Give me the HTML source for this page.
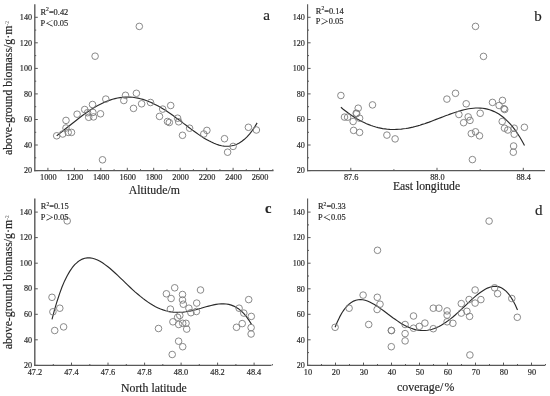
<!DOCTYPE html>
<html><head><meta charset="utf-8"><title>Figure</title>
<style>
html,body{margin:0;padding:0;background:#fff;}
svg{display:block;}
svg text{font-family:"Liberation Serif","Noto Serif CJK SC",serif;fill:#222222;stroke:#333;stroke-width:0.18px;}
</style></head><body>
<svg width="550" height="396" viewBox="0 0 550 396">
<rect width="550" height="396" fill="#ffffff"/>
<line x1="34.8" y1="4.3" x2="34.8" y2="171.2" stroke="#585858" stroke-width="1.35"/>
<line x1="34.2" y1="170.6" x2="273.5" y2="170.6" stroke="#585858" stroke-width="1.10"/>
<line x1="34.8" y1="170.6" x2="37.8" y2="170.6" stroke="#585858" stroke-width="1.00"/>
<text x="32.0" y="173.4" font-size="8.1" text-anchor="end" >20</text>
<line x1="34.8" y1="157.8" x2="36.2" y2="157.8" stroke="#585858" stroke-width="1.00"/>
<line x1="34.8" y1="145.0" x2="37.8" y2="145.0" stroke="#585858" stroke-width="1.00"/>
<text x="32.0" y="147.8" font-size="8.1" text-anchor="end" >40</text>
<line x1="34.8" y1="132.3" x2="36.2" y2="132.3" stroke="#585858" stroke-width="1.00"/>
<line x1="34.8" y1="119.5" x2="37.8" y2="119.5" stroke="#585858" stroke-width="1.00"/>
<text x="32.0" y="122.3" font-size="8.1" text-anchor="end" >60</text>
<line x1="34.8" y1="106.7" x2="36.2" y2="106.7" stroke="#585858" stroke-width="1.00"/>
<line x1="34.8" y1="93.9" x2="37.8" y2="93.9" stroke="#585858" stroke-width="1.00"/>
<text x="32.0" y="96.7" font-size="8.1" text-anchor="end" >80</text>
<line x1="34.8" y1="81.2" x2="36.2" y2="81.2" stroke="#585858" stroke-width="1.00"/>
<line x1="34.8" y1="68.4" x2="37.8" y2="68.4" stroke="#585858" stroke-width="1.00"/>
<text x="32.0" y="71.2" font-size="8.1" text-anchor="end" >100</text>
<line x1="34.8" y1="55.6" x2="36.2" y2="55.6" stroke="#585858" stroke-width="1.00"/>
<line x1="34.8" y1="42.8" x2="37.8" y2="42.8" stroke="#585858" stroke-width="1.00"/>
<text x="32.0" y="45.6" font-size="8.1" text-anchor="end" >120</text>
<line x1="34.8" y1="30.1" x2="36.2" y2="30.1" stroke="#585858" stroke-width="1.00"/>
<line x1="34.8" y1="17.3" x2="37.8" y2="17.3" stroke="#585858" stroke-width="1.00"/>
<text x="32.0" y="20.1" font-size="8.1" text-anchor="end" >140</text>
<line x1="47.9" y1="170.6" x2="47.9" y2="167.8" stroke="#585858" stroke-width="1.00"/>
<line x1="74.4" y1="170.6" x2="74.4" y2="167.8" stroke="#585858" stroke-width="1.00"/>
<line x1="100.8" y1="170.6" x2="100.8" y2="167.8" stroke="#585858" stroke-width="1.00"/>
<line x1="127.3" y1="170.6" x2="127.3" y2="167.8" stroke="#585858" stroke-width="1.00"/>
<line x1="153.7" y1="170.6" x2="153.7" y2="167.8" stroke="#585858" stroke-width="1.00"/>
<line x1="180.2" y1="170.6" x2="180.2" y2="167.8" stroke="#585858" stroke-width="1.00"/>
<line x1="206.7" y1="170.6" x2="206.7" y2="167.8" stroke="#585858" stroke-width="1.00"/>
<line x1="233.1" y1="170.6" x2="233.1" y2="167.8" stroke="#585858" stroke-width="1.00"/>
<line x1="259.6" y1="170.6" x2="259.6" y2="167.8" stroke="#585858" stroke-width="1.00"/>
<line x1="61.1" y1="170.6" x2="61.1" y2="169.2" stroke="#585858" stroke-width="1.00"/>
<line x1="87.6" y1="170.6" x2="87.6" y2="169.2" stroke="#585858" stroke-width="1.00"/>
<line x1="114.1" y1="170.6" x2="114.1" y2="169.2" stroke="#585858" stroke-width="1.00"/>
<line x1="140.5" y1="170.6" x2="140.5" y2="169.2" stroke="#585858" stroke-width="1.00"/>
<line x1="167.0" y1="170.6" x2="167.0" y2="169.2" stroke="#585858" stroke-width="1.00"/>
<line x1="193.4" y1="170.6" x2="193.4" y2="169.2" stroke="#585858" stroke-width="1.00"/>
<line x1="219.9" y1="170.6" x2="219.9" y2="169.2" stroke="#585858" stroke-width="1.00"/>
<line x1="246.3" y1="170.6" x2="246.3" y2="169.2" stroke="#585858" stroke-width="1.00"/>
<line x1="272.8" y1="170.6" x2="272.8" y2="169.2" stroke="#585858" stroke-width="1.00"/>
<text x="48.3" y="180.1" font-size="8.3" text-anchor="middle" >1000</text>
<text x="74.8" y="180.1" font-size="8.3" text-anchor="middle" >1200</text>
<text x="101.2" y="180.1" font-size="8.3" text-anchor="middle" >1400</text>
<text x="127.7" y="180.1" font-size="8.3" text-anchor="middle" >1600</text>
<text x="154.1" y="180.1" font-size="8.3" text-anchor="middle" >1800</text>
<text x="180.6" y="180.1" font-size="8.3" text-anchor="middle" >2000</text>
<text x="207.1" y="180.1" font-size="8.3" text-anchor="middle" >2200</text>
<text x="233.5" y="180.1" font-size="8.3" text-anchor="middle" >2400</text>
<text x="260.0" y="180.1" font-size="8.3" text-anchor="middle" >2600</text>
<text x="154.3" y="193.5" font-size="11.8" text-anchor="middle" >Altitude/m</text>
<text transform="translate(11.5,88.1) rotate(-90)" font-size="11.8" text-anchor="middle">above-ground biomass/g·m<tspan font-size="5.5" dy="-2.8" fill="#555" stroke="none">-2</tspan></text>
<line x1="307.6" y1="4.3" x2="307.6" y2="171.2" stroke="#585858" stroke-width="1.10"/>
<line x1="307.0" y1="170.6" x2="545.0" y2="170.6" stroke="#585858" stroke-width="1.10"/>
<line x1="307.6" y1="170.6" x2="310.6" y2="170.6" stroke="#585858" stroke-width="1.00"/>
<text x="304.8" y="173.4" font-size="8.1" text-anchor="end" >20</text>
<line x1="307.6" y1="157.8" x2="309.0" y2="157.8" stroke="#585858" stroke-width="1.00"/>
<line x1="307.6" y1="145.0" x2="310.6" y2="145.0" stroke="#585858" stroke-width="1.00"/>
<text x="304.8" y="147.8" font-size="8.1" text-anchor="end" >40</text>
<line x1="307.6" y1="132.3" x2="309.0" y2="132.3" stroke="#585858" stroke-width="1.00"/>
<line x1="307.6" y1="119.5" x2="310.6" y2="119.5" stroke="#585858" stroke-width="1.00"/>
<text x="304.8" y="122.3" font-size="8.1" text-anchor="end" >60</text>
<line x1="307.6" y1="106.7" x2="309.0" y2="106.7" stroke="#585858" stroke-width="1.00"/>
<line x1="307.6" y1="93.9" x2="310.6" y2="93.9" stroke="#585858" stroke-width="1.00"/>
<text x="304.8" y="96.7" font-size="8.1" text-anchor="end" >80</text>
<line x1="307.6" y1="81.2" x2="309.0" y2="81.2" stroke="#585858" stroke-width="1.00"/>
<line x1="307.6" y1="68.4" x2="310.6" y2="68.4" stroke="#585858" stroke-width="1.00"/>
<text x="304.8" y="71.2" font-size="8.1" text-anchor="end" >100</text>
<line x1="307.6" y1="55.6" x2="309.0" y2="55.6" stroke="#585858" stroke-width="1.00"/>
<line x1="307.6" y1="42.8" x2="310.6" y2="42.8" stroke="#585858" stroke-width="1.00"/>
<text x="304.8" y="45.6" font-size="8.1" text-anchor="end" >120</text>
<line x1="307.6" y1="30.1" x2="309.0" y2="30.1" stroke="#585858" stroke-width="1.00"/>
<line x1="307.6" y1="17.3" x2="310.6" y2="17.3" stroke="#585858" stroke-width="1.00"/>
<text x="304.8" y="20.1" font-size="8.1" text-anchor="end" >140</text>
<line x1="350.8" y1="170.6" x2="350.8" y2="167.8" stroke="#585858" stroke-width="1.00"/>
<line x1="437.0" y1="170.6" x2="437.0" y2="167.8" stroke="#585858" stroke-width="1.00"/>
<line x1="523.3" y1="170.6" x2="523.3" y2="167.8" stroke="#585858" stroke-width="1.00"/>
<line x1="393.9" y1="170.6" x2="393.9" y2="169.2" stroke="#585858" stroke-width="1.00"/>
<line x1="480.2" y1="170.6" x2="480.2" y2="169.2" stroke="#585858" stroke-width="1.00"/>
<text x="351.2" y="180.1" font-size="8.3" text-anchor="middle" >87.6</text>
<text x="437.4" y="180.1" font-size="8.3" text-anchor="middle" >88.0</text>
<text x="523.7" y="180.1" font-size="8.3" text-anchor="middle" >88.4</text>
<text x="426.5" y="190.4" font-size="11.7" text-anchor="middle" >East longitude</text>
<line x1="34.8" y1="198.6" x2="34.8" y2="366.0" stroke="#585858" stroke-width="1.40"/>
<line x1="34.2" y1="365.4" x2="271.5" y2="365.4" stroke="#585858" stroke-width="1.10"/>
<line x1="34.8" y1="365.4" x2="37.8" y2="365.4" stroke="#585858" stroke-width="1.00"/>
<text x="32.0" y="368.1" font-size="8.1" text-anchor="end" >20</text>
<line x1="34.8" y1="339.8" x2="37.8" y2="339.8" stroke="#585858" stroke-width="1.00"/>
<text x="32.0" y="342.5" font-size="8.1" text-anchor="end" >40</text>
<line x1="34.8" y1="314.3" x2="37.8" y2="314.3" stroke="#585858" stroke-width="1.00"/>
<text x="32.0" y="317.0" font-size="8.1" text-anchor="end" >60</text>
<line x1="34.8" y1="288.8" x2="37.8" y2="288.8" stroke="#585858" stroke-width="1.00"/>
<text x="32.0" y="291.4" font-size="8.1" text-anchor="end" >80</text>
<line x1="34.8" y1="263.2" x2="37.8" y2="263.2" stroke="#585858" stroke-width="1.00"/>
<text x="32.0" y="265.9" font-size="8.1" text-anchor="end" >100</text>
<line x1="34.8" y1="237.6" x2="37.8" y2="237.6" stroke="#585858" stroke-width="1.00"/>
<text x="32.0" y="240.3" font-size="8.1" text-anchor="end" >120</text>
<line x1="34.8" y1="212.1" x2="37.8" y2="212.1" stroke="#585858" stroke-width="1.00"/>
<text x="32.0" y="214.8" font-size="8.1" text-anchor="end" >140</text>
<line x1="71.5" y1="365.4" x2="71.5" y2="362.6" stroke="#585858" stroke-width="1.00"/>
<line x1="108.0" y1="365.4" x2="108.0" y2="362.6" stroke="#585858" stroke-width="1.00"/>
<line x1="144.6" y1="365.4" x2="144.6" y2="362.6" stroke="#585858" stroke-width="1.00"/>
<line x1="181.1" y1="365.4" x2="181.1" y2="362.6" stroke="#585858" stroke-width="1.00"/>
<line x1="217.6" y1="365.4" x2="217.6" y2="362.6" stroke="#585858" stroke-width="1.00"/>
<line x1="254.1" y1="365.4" x2="254.1" y2="362.6" stroke="#585858" stroke-width="1.00"/>
<line x1="53.3" y1="365.4" x2="53.3" y2="364.0" stroke="#585858" stroke-width="1.00"/>
<line x1="89.8" y1="365.4" x2="89.8" y2="364.0" stroke="#585858" stroke-width="1.00"/>
<line x1="126.3" y1="365.4" x2="126.3" y2="364.0" stroke="#585858" stroke-width="1.00"/>
<line x1="162.8" y1="365.4" x2="162.8" y2="364.0" stroke="#585858" stroke-width="1.00"/>
<line x1="199.3" y1="365.4" x2="199.3" y2="364.0" stroke="#585858" stroke-width="1.00"/>
<line x1="235.9" y1="365.4" x2="235.9" y2="364.0" stroke="#585858" stroke-width="1.00"/>
<line x1="272.4" y1="365.4" x2="272.4" y2="364.0" stroke="#585858" stroke-width="1.00"/>
<text x="34.9" y="374.9" font-size="8.3" text-anchor="middle" >47.2</text>
<text x="71.4" y="374.9" font-size="8.3" text-anchor="middle" >47.4</text>
<text x="107.9" y="374.9" font-size="8.3" text-anchor="middle" >47.6</text>
<text x="144.5" y="374.9" font-size="8.3" text-anchor="middle" >47.8</text>
<text x="181.0" y="374.9" font-size="8.3" text-anchor="middle" >48.0</text>
<text x="217.5" y="374.9" font-size="8.3" text-anchor="middle" >48.2</text>
<text x="254.0" y="374.9" font-size="8.3" text-anchor="middle" >48.4</text>
<text x="153.9" y="391.5" font-size="11.8" text-anchor="middle" >North latitude</text>
<text transform="translate(11.5,282.3) rotate(-90)" font-size="11.8" text-anchor="middle">above-ground biomass/g·m<tspan font-size="5.5" dy="-2.8" fill="#555" stroke="none">-2</tspan></text>
<line x1="307.6" y1="198.6" x2="307.6" y2="366.0" stroke="#585858" stroke-width="1.10"/>
<line x1="307.0" y1="365.4" x2="545.0" y2="365.4" stroke="#585858" stroke-width="1.10"/>
<line x1="307.6" y1="365.4" x2="310.6" y2="365.4" stroke="#585858" stroke-width="1.00"/>
<text x="304.8" y="368.2" font-size="8.1" text-anchor="end" >20</text>
<line x1="307.6" y1="352.6" x2="309.0" y2="352.6" stroke="#585858" stroke-width="1.00"/>
<line x1="307.6" y1="339.8" x2="310.6" y2="339.8" stroke="#585858" stroke-width="1.00"/>
<text x="304.8" y="342.6" font-size="8.1" text-anchor="end" >40</text>
<line x1="307.6" y1="327.1" x2="309.0" y2="327.1" stroke="#585858" stroke-width="1.00"/>
<line x1="307.6" y1="314.3" x2="310.6" y2="314.3" stroke="#585858" stroke-width="1.00"/>
<text x="304.8" y="317.1" font-size="8.1" text-anchor="end" >60</text>
<line x1="307.6" y1="301.5" x2="309.0" y2="301.5" stroke="#585858" stroke-width="1.00"/>
<line x1="307.6" y1="288.8" x2="310.6" y2="288.8" stroke="#585858" stroke-width="1.00"/>
<text x="304.8" y="291.6" font-size="8.1" text-anchor="end" >80</text>
<line x1="307.6" y1="276.0" x2="309.0" y2="276.0" stroke="#585858" stroke-width="1.00"/>
<line x1="307.6" y1="263.2" x2="310.6" y2="263.2" stroke="#585858" stroke-width="1.00"/>
<text x="304.8" y="266.0" font-size="8.1" text-anchor="end" >100</text>
<line x1="307.6" y1="250.4" x2="309.0" y2="250.4" stroke="#585858" stroke-width="1.00"/>
<line x1="307.6" y1="237.6" x2="310.6" y2="237.6" stroke="#585858" stroke-width="1.00"/>
<text x="304.8" y="240.4" font-size="8.1" text-anchor="end" >120</text>
<line x1="307.6" y1="224.9" x2="309.0" y2="224.9" stroke="#585858" stroke-width="1.00"/>
<line x1="307.6" y1="212.1" x2="310.6" y2="212.1" stroke="#585858" stroke-width="1.00"/>
<text x="304.8" y="214.9" font-size="8.1" text-anchor="end" >140</text>
<line x1="335.5" y1="365.4" x2="335.5" y2="362.6" stroke="#585858" stroke-width="1.00"/>
<line x1="363.5" y1="365.4" x2="363.5" y2="362.6" stroke="#585858" stroke-width="1.00"/>
<line x1="391.5" y1="365.4" x2="391.5" y2="362.6" stroke="#585858" stroke-width="1.00"/>
<line x1="419.5" y1="365.4" x2="419.5" y2="362.6" stroke="#585858" stroke-width="1.00"/>
<line x1="447.5" y1="365.4" x2="447.5" y2="362.6" stroke="#585858" stroke-width="1.00"/>
<line x1="475.5" y1="365.4" x2="475.5" y2="362.6" stroke="#585858" stroke-width="1.00"/>
<line x1="503.5" y1="365.4" x2="503.5" y2="362.6" stroke="#585858" stroke-width="1.00"/>
<line x1="531.5" y1="365.4" x2="531.5" y2="362.6" stroke="#585858" stroke-width="1.00"/>
<line x1="321.5" y1="365.4" x2="321.5" y2="364.0" stroke="#585858" stroke-width="1.00"/>
<line x1="349.5" y1="365.4" x2="349.5" y2="364.0" stroke="#585858" stroke-width="1.00"/>
<line x1="377.5" y1="365.4" x2="377.5" y2="364.0" stroke="#585858" stroke-width="1.00"/>
<line x1="405.5" y1="365.4" x2="405.5" y2="364.0" stroke="#585858" stroke-width="1.00"/>
<line x1="433.5" y1="365.4" x2="433.5" y2="364.0" stroke="#585858" stroke-width="1.00"/>
<line x1="461.5" y1="365.4" x2="461.5" y2="364.0" stroke="#585858" stroke-width="1.00"/>
<line x1="489.5" y1="365.4" x2="489.5" y2="364.0" stroke="#585858" stroke-width="1.00"/>
<line x1="517.5" y1="365.4" x2="517.5" y2="364.0" stroke="#585858" stroke-width="1.00"/>
<line x1="545.5" y1="365.4" x2="545.5" y2="364.0" stroke="#585858" stroke-width="1.00"/>
<text x="307.9" y="374.9" font-size="8.3" text-anchor="middle" >10</text>
<text x="335.9" y="374.9" font-size="8.3" text-anchor="middle" >20</text>
<text x="363.9" y="374.9" font-size="8.3" text-anchor="middle" >30</text>
<text x="391.9" y="374.9" font-size="8.3" text-anchor="middle" >40</text>
<text x="419.9" y="374.9" font-size="8.3" text-anchor="middle" >50</text>
<text x="447.9" y="374.9" font-size="8.3" text-anchor="middle" >60</text>
<text x="475.9" y="374.9" font-size="8.3" text-anchor="middle" >70</text>
<text x="503.9" y="374.9" font-size="8.3" text-anchor="middle" >80</text>
<text x="531.9" y="374.9" font-size="8.3" text-anchor="middle" >90</text>
<text x="425.7" y="391.1" font-size="11.9" text-anchor="middle" >coverage/<tspan dx="1.2">%</tspan></text>
<path d="M56.7,135.8 L59.2,133.9 L61.8,131.9 L64.3,129.8 L66.8,127.8 L69.4,125.7 L71.9,123.7 L74.5,121.7 L77.0,119.7 L79.5,117.7 L82.1,115.8 L84.6,114.0 L87.1,112.2 L89.7,110.5 L92.2,108.8 L94.8,107.3 L97.3,105.8 L99.8,104.5 L102.4,103.2 L104.9,102.0 L107.4,101.0 L110.0,100.1 L112.5,99.3 L115.0,98.6 L117.6,98.0 L120.1,97.6 L122.7,97.3 L125.2,97.1 L127.7,97.1 L130.3,97.1 L132.8,97.3 L135.3,97.7 L137.9,98.1 L140.4,98.7 L142.9,99.4 L145.5,100.3 L148.0,101.2 L150.6,102.3 L153.1,103.4 L155.6,104.7 L158.2,106.0 L160.7,107.5 L163.2,109.0 L165.8,110.6 L168.3,112.3 L170.9,114.0 L173.4,115.8 L175.9,117.7 L178.5,119.5 L181.0,121.4 L183.5,123.4 L186.1,125.3 L188.6,127.2 L191.1,129.1 L193.7,131.0 L196.2,132.8 L198.8,134.6 L201.3,136.3 L203.8,137.9 L206.4,139.4 L208.9,140.8 L211.4,142.1 L214.0,143.3 L216.5,144.3 L219.0,145.1 L221.6,145.7 L224.1,146.1 L226.7,146.2 L229.2,146.2 L231.7,145.8 L234.3,145.2 L236.8,144.2 L239.3,142.9 L241.9,141.3 L244.4,139.3 L247.0,136.9 L249.5,134.1 L252.0,130.8 L254.6,127.1 L257.1,122.9" fill="none" stroke="#2a2a2a" stroke-width="1.15" stroke-linejoin="round"/>
<g fill="none" stroke="#7d7d7d" stroke-width="0.9">
<circle cx="56.7" cy="135.8" r="3.3"/>
<circle cx="62.7" cy="134.0" r="3.3"/>
<circle cx="66.0" cy="120.4" r="3.3"/>
<circle cx="66.0" cy="128.0" r="3.3"/>
<circle cx="68.2" cy="132.4" r="3.3"/>
<circle cx="71.5" cy="132.4" r="3.3"/>
<circle cx="77.1" cy="114.2" r="3.3"/>
<circle cx="84.7" cy="109.5" r="3.3"/>
<circle cx="87.6" cy="112.7" r="3.3"/>
<circle cx="88.7" cy="117.3" r="3.3"/>
<circle cx="92.5" cy="104.5" r="3.3"/>
<circle cx="93.5" cy="116.9" r="3.3"/>
<circle cx="92.9" cy="112.4" r="3.3"/>
<circle cx="100.5" cy="113.8" r="3.3"/>
<circle cx="105.8" cy="99.1" r="3.3"/>
<circle cx="123.8" cy="100.5" r="3.3"/>
<circle cx="125.5" cy="95.3" r="3.3"/>
<circle cx="133.5" cy="108.4" r="3.3"/>
<circle cx="136.4" cy="93.3" r="3.3"/>
<circle cx="141.6" cy="103.8" r="3.3"/>
<circle cx="150.5" cy="102.5" r="3.3"/>
<circle cx="159.5" cy="116.4" r="3.3"/>
<circle cx="162.7" cy="109.1" r="3.3"/>
<circle cx="167.5" cy="121.5" r="3.3"/>
<circle cx="169.3" cy="122.5" r="3.3"/>
<circle cx="170.7" cy="105.5" r="3.3"/>
<circle cx="177.6" cy="118.2" r="3.3"/>
<circle cx="178.7" cy="121.8" r="3.3"/>
<circle cx="182.5" cy="135.3" r="3.3"/>
<circle cx="189.6" cy="128.2" r="3.3"/>
<circle cx="203.8" cy="134.0" r="3.3"/>
<circle cx="206.9" cy="130.4" r="3.3"/>
<circle cx="224.5" cy="138.7" r="3.3"/>
<circle cx="227.6" cy="152.2" r="3.3"/>
<circle cx="233.1" cy="146.4" r="3.3"/>
<circle cx="248.4" cy="127.3" r="3.3"/>
<circle cx="256.4" cy="130.0" r="3.3"/>
<circle cx="95.1" cy="56.2" r="3.3"/>
<circle cx="139.3" cy="26.4" r="3.3"/>
<circle cx="102.5" cy="159.8" r="3.3"/>
</g>
<path d="M340.9,107.3 L343.2,109.2 L345.5,111.0 L347.9,112.8 L350.2,114.4 L352.5,116.0 L354.8,117.5 L357.2,118.9 L359.5,120.2 L361.8,121.5 L364.1,122.6 L366.5,123.7 L368.8,124.6 L371.1,125.5 L373.4,126.3 L375.8,127.0 L378.1,127.6 L380.4,128.1 L382.7,128.6 L385.1,128.9 L387.4,129.2 L389.7,129.4 L392.0,129.5 L394.4,129.5 L396.7,129.4 L399.0,129.3 L401.3,129.1 L403.6,128.8 L406.0,128.5 L408.3,128.1 L410.6,127.6 L412.9,127.1 L415.3,126.5 L417.6,125.9 L419.9,125.2 L422.2,124.4 L424.6,123.7 L426.9,122.9 L429.2,122.1 L431.5,121.2 L433.9,120.3 L436.2,119.4 L438.5,118.5 L440.8,117.6 L443.2,116.7 L445.5,115.8 L447.8,115.0 L450.1,114.1 L452.5,113.3 L454.8,112.5 L457.1,111.7 L459.4,111.0 L461.8,110.4 L464.1,109.8 L466.4,109.3 L468.7,108.8 L471.0,108.5 L473.4,108.2 L475.7,108.0 L478.0,108.0 L480.3,108.1 L482.7,108.3 L485.0,108.6 L487.3,109.1 L489.6,109.8 L492.0,110.6 L494.3,111.6 L496.6,112.7 L498.9,114.1 L501.3,115.7 L503.6,117.5 L505.9,119.6 L508.2,121.8 L510.6,124.4 L512.9,127.2 L515.2,130.2 L517.5,133.6 L519.9,137.3 L522.2,141.2 L524.5,145.5" fill="none" stroke="#2a2a2a" stroke-width="1.15" stroke-linejoin="round"/>
<g fill="none" stroke="#7d7d7d" stroke-width="0.9">
<circle cx="340.9" cy="95.5" r="3.3"/>
<circle cx="344.5" cy="117.1" r="3.3"/>
<circle cx="347.6" cy="117.2" r="3.3"/>
<circle cx="353.1" cy="121.5" r="3.3"/>
<circle cx="353.6" cy="130.4" r="3.3"/>
<circle cx="356.7" cy="113.6" r="3.3"/>
<circle cx="356.2" cy="113.2" r="3.3"/>
<circle cx="358.2" cy="108.2" r="3.3"/>
<circle cx="359.6" cy="118.2" r="3.3"/>
<circle cx="359.6" cy="132.4" r="3.3"/>
<circle cx="372.5" cy="104.9" r="3.3"/>
<circle cx="386.9" cy="135.1" r="3.3"/>
<circle cx="395.1" cy="138.9" r="3.3"/>
<circle cx="446.9" cy="99.1" r="3.3"/>
<circle cx="455.5" cy="93.3" r="3.3"/>
<circle cx="458.9" cy="114.5" r="3.3"/>
<circle cx="463.6" cy="122.7" r="3.3"/>
<circle cx="466.2" cy="103.8" r="3.3"/>
<circle cx="468.2" cy="116.9" r="3.3"/>
<circle cx="470.0" cy="120.4" r="3.3"/>
<circle cx="471.3" cy="133.6" r="3.3"/>
<circle cx="475.5" cy="131.8" r="3.3"/>
<circle cx="479.5" cy="135.8" r="3.3"/>
<circle cx="480.2" cy="113.3" r="3.3"/>
<circle cx="492.5" cy="102.4" r="3.3"/>
<circle cx="499.1" cy="105.5" r="3.3"/>
<circle cx="502.5" cy="100.4" r="3.3"/>
<circle cx="504.0" cy="108.7" r="3.3"/>
<circle cx="504.7" cy="109.5" r="3.3"/>
<circle cx="502.2" cy="121.5" r="3.3"/>
<circle cx="504.5" cy="128.2" r="3.3"/>
<circle cx="507.8" cy="130.0" r="3.3"/>
<circle cx="514.2" cy="128.2" r="3.3"/>
<circle cx="514.2" cy="134.2" r="3.3"/>
<circle cx="513.6" cy="146.0" r="3.3"/>
<circle cx="513.3" cy="152.2" r="3.3"/>
<circle cx="524.4" cy="127.3" r="3.3"/>
<circle cx="472.4" cy="159.6" r="3.3"/>
<circle cx="475.5" cy="26.4" r="3.3"/>
<circle cx="483.5" cy="56.4" r="3.3"/>
</g>
<path d="M52.0,319.4 L54.5,309.8 L57.1,301.2 L59.6,293.6 L62.1,286.8 L64.6,280.9 L67.2,275.8 L69.7,271.4 L72.2,267.7 L74.7,264.7 L77.3,262.3 L79.8,260.4 L82.3,259.1 L84.8,258.3 L87.4,257.9 L89.9,257.9 L92.4,258.3 L94.9,259.0 L97.5,260.0 L100.0,261.3 L102.5,262.8 L105.0,264.6 L107.6,266.5 L110.1,268.5 L112.6,270.7 L115.1,273.0 L117.7,275.4 L120.2,277.8 L122.7,280.2 L125.2,282.6 L127.8,285.1 L130.3,287.5 L132.8,289.8 L135.3,292.1 L137.9,294.3 L140.4,296.4 L142.9,298.4 L145.4,300.3 L148.0,302.1 L150.5,303.8 L153.0,305.3 L155.5,306.7 L158.1,307.9 L160.6,309.0 L163.1,309.9 L165.6,310.7 L168.2,311.3 L170.7,311.8 L173.2,312.1 L175.7,312.3 L178.3,312.4 L180.8,312.3 L183.3,312.1 L185.8,311.8 L188.4,311.4 L190.9,310.9 L193.4,310.3 L195.9,309.7 L198.5,309.0 L201.0,308.3 L203.5,307.5 L206.0,306.8 L208.6,306.1 L211.1,305.5 L213.6,304.9 L216.1,304.4 L218.7,304.0 L221.2,303.8 L223.7,303.8 L226.2,304.0 L228.8,304.4 L231.3,305.1 L233.8,306.1 L236.3,307.4 L238.9,309.1 L241.4,311.2 L243.9,313.7 L246.4,316.7 L249.0,320.3 L251.5,324.4" fill="none" stroke="#2a2a2a" stroke-width="1.15" stroke-linejoin="round"/>
<g fill="none" stroke="#7d7d7d" stroke-width="0.9">
<circle cx="67.2" cy="220.9" r="3.3"/>
<circle cx="52.0" cy="297.3" r="3.3"/>
<circle cx="52.9" cy="311.8" r="3.3"/>
<circle cx="59.8" cy="308.2" r="3.3"/>
<circle cx="54.7" cy="330.5" r="3.3"/>
<circle cx="63.6" cy="326.9" r="3.3"/>
<circle cx="158.5" cy="328.5" r="3.3"/>
<circle cx="166.4" cy="293.8" r="3.3"/>
<circle cx="171.1" cy="298.5" r="3.3"/>
<circle cx="170.4" cy="309.1" r="3.3"/>
<circle cx="172.9" cy="321.8" r="3.3"/>
<circle cx="174.7" cy="287.8" r="3.3"/>
<circle cx="177.6" cy="317.3" r="3.3"/>
<circle cx="179.8" cy="315.5" r="3.3"/>
<circle cx="178.7" cy="324.5" r="3.3"/>
<circle cx="182.5" cy="294.5" r="3.3"/>
<circle cx="182.5" cy="300.0" r="3.3"/>
<circle cx="183.3" cy="304.2" r="3.3"/>
<circle cx="182.7" cy="323.3" r="3.3"/>
<circle cx="186.0" cy="323.3" r="3.3"/>
<circle cx="186.7" cy="329.1" r="3.3"/>
<circle cx="188.9" cy="308.2" r="3.3"/>
<circle cx="190.9" cy="312.7" r="3.3"/>
<circle cx="196.4" cy="311.5" r="3.3"/>
<circle cx="196.7" cy="303.1" r="3.3"/>
<circle cx="200.5" cy="290.0" r="3.3"/>
<circle cx="178.6" cy="341.2" r="3.3"/>
<circle cx="182.7" cy="346.7" r="3.3"/>
<circle cx="172.2" cy="354.5" r="3.3"/>
<circle cx="236.5" cy="327.3" r="3.3"/>
<circle cx="242.2" cy="323.6" r="3.3"/>
<circle cx="239.1" cy="308.2" r="3.3"/>
<circle cx="243.8" cy="313.1" r="3.3"/>
<circle cx="251.1" cy="327.6" r="3.3"/>
<circle cx="248.7" cy="299.6" r="3.3"/>
<circle cx="251.3" cy="316.4" r="3.3"/>
<circle cx="251.1" cy="334.0" r="3.3"/>
</g>
<path d="M335.1,327.2 L337.4,321.7 L339.7,316.9 L342.0,312.8 L344.3,309.4 L346.6,306.5 L349.0,304.2 L351.3,302.4 L353.6,301.1 L355.9,300.2 L358.2,299.8 L360.5,299.6 L362.8,299.8 L365.1,300.3 L367.4,301.0 L369.7,302.0 L372.0,303.2 L374.4,304.5 L376.7,305.9 L379.0,307.5 L381.3,309.1 L383.6,310.8 L385.9,312.5 L388.2,314.3 L390.5,316.0 L392.8,317.7 L395.1,319.3 L397.4,320.9 L399.7,322.5 L402.1,323.9 L404.4,325.2 L406.7,326.4 L409.0,327.4 L411.3,328.3 L413.6,329.1 L415.9,329.7 L418.2,330.2 L420.5,330.4 L422.8,330.5 L425.1,330.5 L427.5,330.2 L429.8,329.8 L432.1,329.2 L434.4,328.5 L436.7,327.6 L439.0,326.5 L441.3,325.2 L443.6,323.8 L445.9,322.3 L448.2,320.6 L450.5,318.9 L452.9,317.0 L455.2,315.0 L457.5,312.9 L459.8,310.8 L462.1,308.7 L464.4,306.5 L466.7,304.3 L469.0,302.1 L471.3,299.9 L473.6,297.9 L475.9,295.9 L478.2,294.0 L480.6,292.2 L482.9,290.7 L485.2,289.3 L487.5,288.1 L489.8,287.2 L492.1,286.6 L494.4,286.3 L496.7,286.4 L499.0,286.9 L501.3,287.8 L503.6,289.2 L506.0,291.1 L508.3,293.6 L510.6,296.7 L512.9,300.4 L515.2,304.8 L517.5,310.0" fill="none" stroke="#2a2a2a" stroke-width="1.15" stroke-linejoin="round"/>
<g fill="none" stroke="#7d7d7d" stroke-width="0.9">
<circle cx="335.1" cy="327.3" r="3.3"/>
<circle cx="349.1" cy="308.2" r="3.3"/>
<circle cx="363.1" cy="295.1" r="3.3"/>
<circle cx="368.7" cy="324.5" r="3.3"/>
<circle cx="377.3" cy="297.3" r="3.3"/>
<circle cx="380.0" cy="304.2" r="3.3"/>
<circle cx="377.1" cy="309.5" r="3.3"/>
<circle cx="391.3" cy="330.4" r="3.3"/>
<circle cx="391.5" cy="330.6" r="3.3"/>
<circle cx="391.3" cy="346.7" r="3.3"/>
<circle cx="405.1" cy="324.5" r="3.3"/>
<circle cx="405.1" cy="333.6" r="3.3"/>
<circle cx="405.1" cy="340.9" r="3.3"/>
<circle cx="413.5" cy="316.0" r="3.3"/>
<circle cx="413.5" cy="328.2" r="3.3"/>
<circle cx="419.3" cy="326.4" r="3.3"/>
<circle cx="424.9" cy="323.1" r="3.3"/>
<circle cx="433.3" cy="328.7" r="3.3"/>
<circle cx="433.3" cy="308.2" r="3.3"/>
<circle cx="438.9" cy="308.2" r="3.3"/>
<circle cx="447.1" cy="310.9" r="3.3"/>
<circle cx="447.1" cy="315.1" r="3.3"/>
<circle cx="447.1" cy="321.8" r="3.3"/>
<circle cx="452.9" cy="323.3" r="3.3"/>
<circle cx="461.3" cy="303.6" r="3.3"/>
<circle cx="461.3" cy="313.1" r="3.3"/>
<circle cx="466.9" cy="311.3" r="3.3"/>
<circle cx="469.6" cy="316.4" r="3.3"/>
<circle cx="469.1" cy="299.5" r="3.3"/>
<circle cx="475.1" cy="303.1" r="3.3"/>
<circle cx="475.1" cy="290.0" r="3.3"/>
<circle cx="480.9" cy="299.6" r="3.3"/>
<circle cx="494.6" cy="287.8" r="3.3"/>
<circle cx="497.6" cy="293.7" r="3.3"/>
<circle cx="511.8" cy="298.5" r="3.3"/>
<circle cx="517.3" cy="317.3" r="3.3"/>
<circle cx="489.1" cy="221.1" r="3.3"/>
<circle cx="377.5" cy="250.3" r="3.3"/>
<circle cx="469.9" cy="355.0" r="3.3"/>
</g>
<text x="40.5" y="14.7" font-size="8.4" text-anchor="start">R<tspan font-size="5.6" dy="-3.4">2</tspan><tspan dy="3.4">=0.42</tspan></text>
<text x="40.5" y="25.5" font-size="8.4" text-anchor="start">P＜0.05</text>
<text x="315.8" y="13.5" font-size="8.4" text-anchor="start">R<tspan font-size="5.6" dy="-3.4">2</tspan><tspan dy="3.4">=0.14</tspan></text>
<text x="315.8" y="23.8" font-size="8.4" text-anchor="start">P＞0.05</text>
<text x="40.8" y="209.4" font-size="8.4" text-anchor="start">R<tspan font-size="5.6" dy="-3.4">2</tspan><tspan dy="3.4">=0.15</tspan></text>
<text x="40.8" y="219.8" font-size="8.4" text-anchor="start">P＞0.05</text>
<text x="318.0" y="209.4" font-size="8.4" text-anchor="start">R<tspan font-size="5.6" dy="-3.4">2</tspan><tspan dy="3.4">=0.33</tspan></text>
<text x="318.0" y="219.8" font-size="8.4" text-anchor="start">P＜0.05</text>
<text x="263.2" y="20.0" font-size="15.2" text-anchor="start" stroke="#222" stroke-width="0.25">a</text>
<text x="534.3" y="20.6" font-size="15" text-anchor="start" stroke="#222" stroke-width="0.2">b</text>
<text x="265.0" y="212.8" font-size="14.6" text-anchor="start" font-weight="bold">c</text>
<text x="534.9" y="214.7" font-size="15" text-anchor="start" stroke="#222" stroke-width="0.2">d</text>
</svg>
</body></html>
